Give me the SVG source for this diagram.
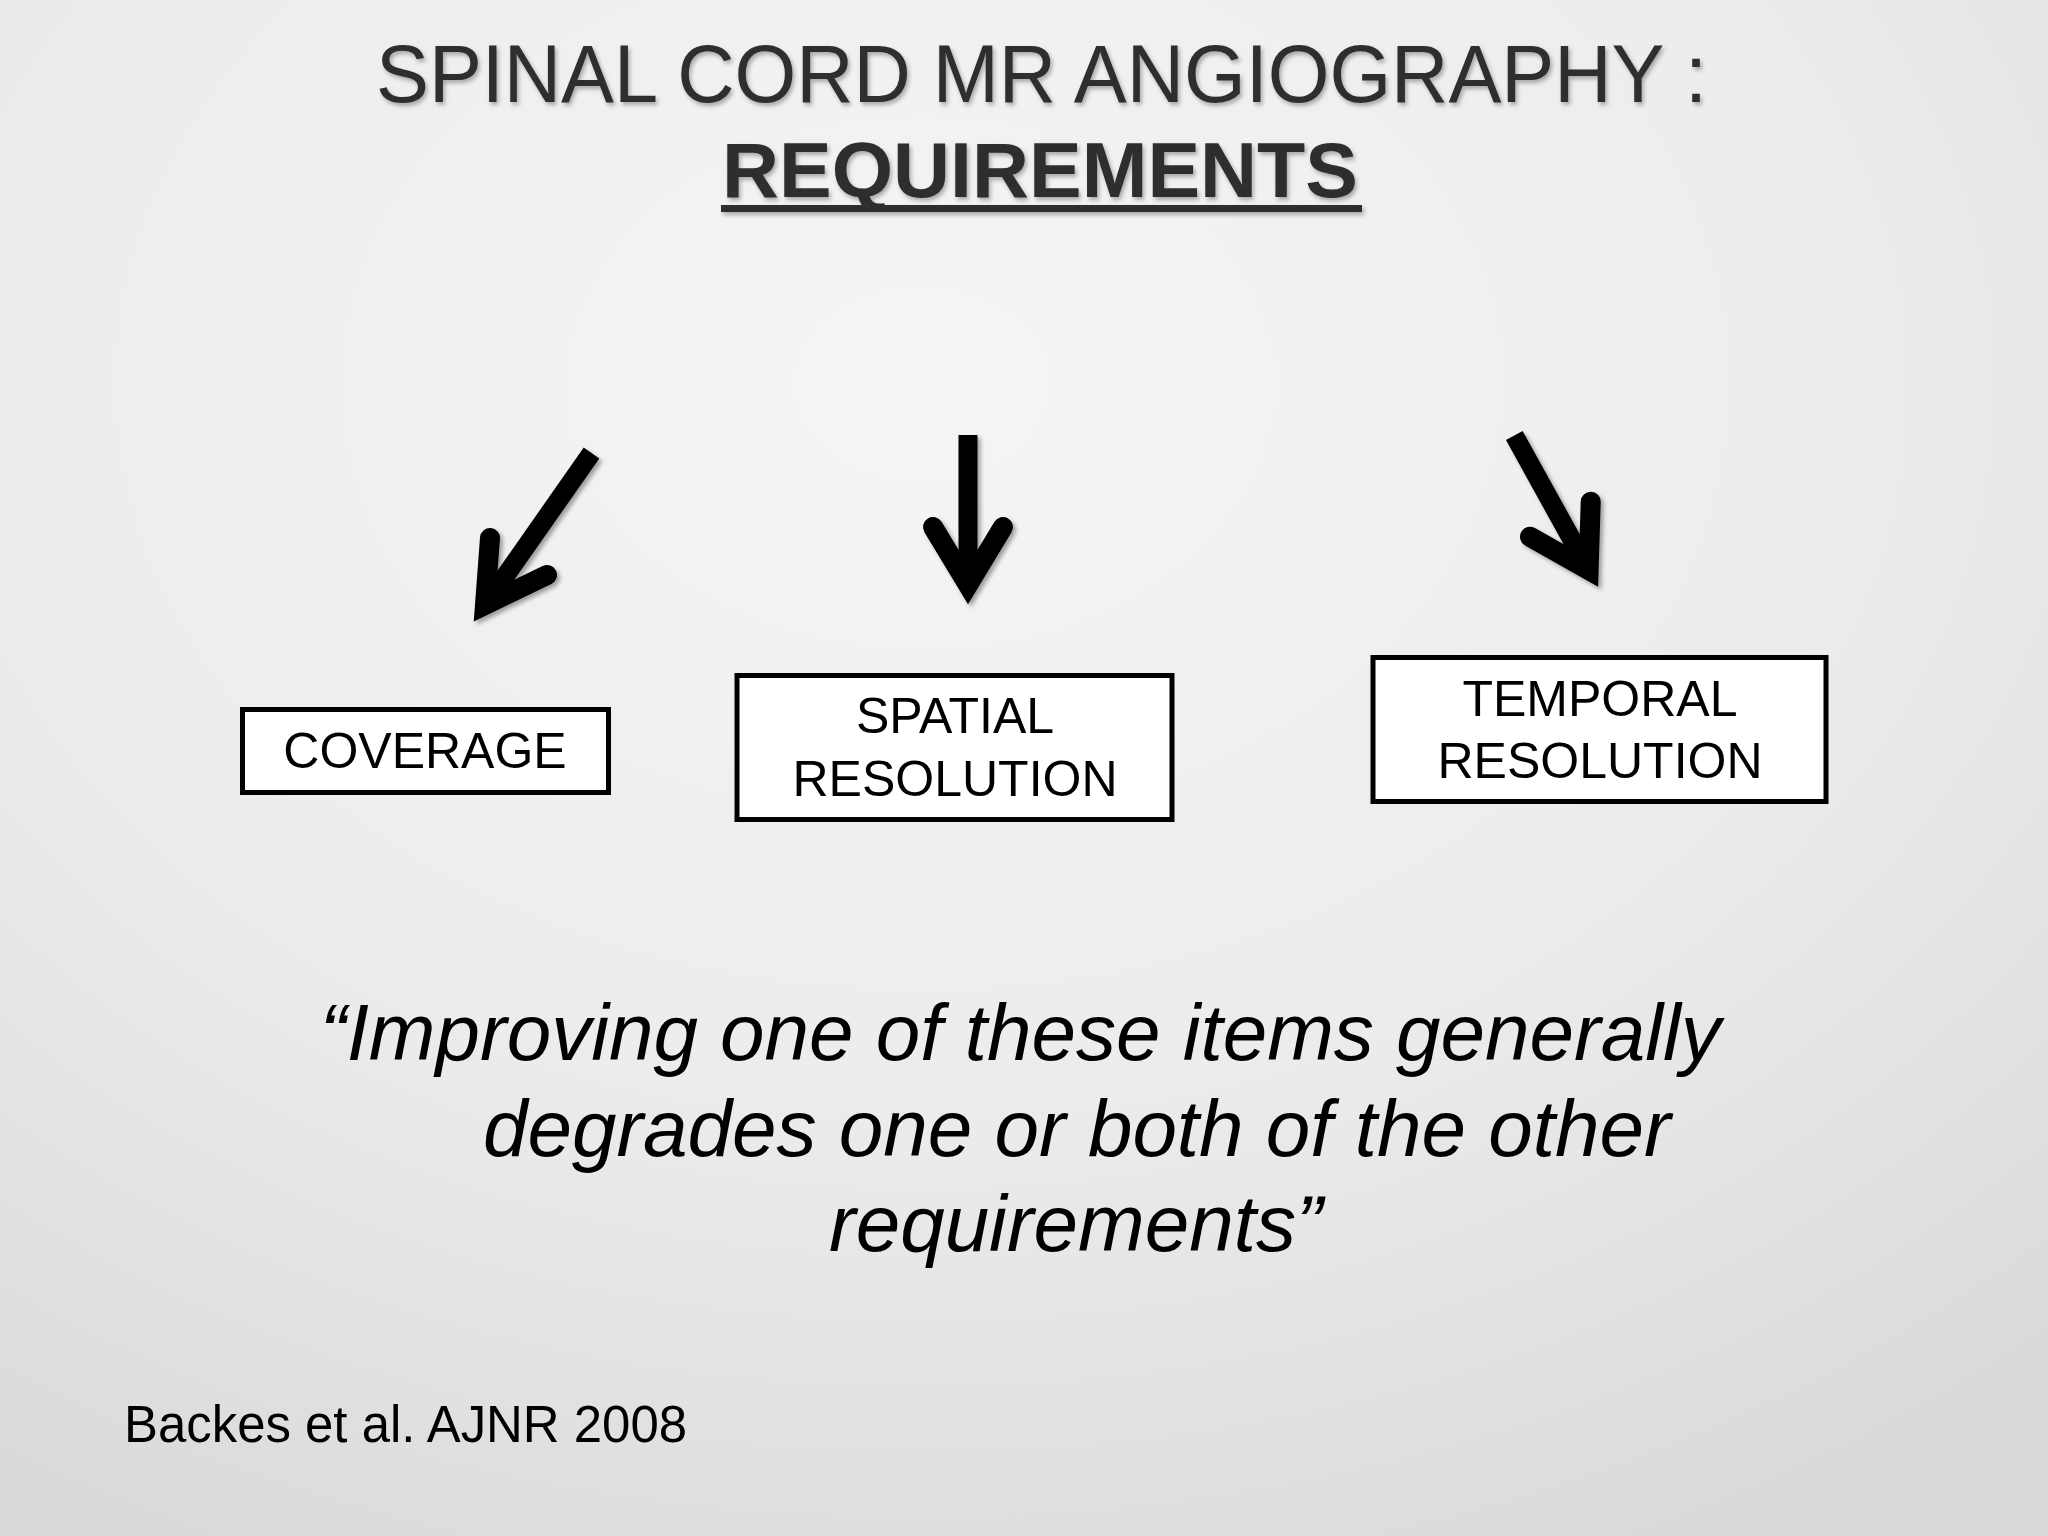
<svg xmlns="http://www.w3.org/2000/svg" width="2048" height="1536" viewBox="0 0 2048 1536">
  <defs>
    <radialGradient id="bg" cx="45%" cy="25%" r="85%">
      <stop offset="0" stop-color="#f5f5f5"/>
      <stop offset="0.55" stop-color="#ececec"/>
      <stop offset="1" stop-color="#d9d9d9"/>
    </radialGradient>
    <filter id="shadow" x="-20%" y="-20%" width="140%" height="140%">
      <feDropShadow dx="3" dy="3" stdDeviation="2" flood-color="#000" flood-opacity="0.35"/>
    </filter>
    <filter id="tshadow" x="-5%" y="-20%" width="110%" height="140%">
      <feDropShadow dx="2" dy="3" stdDeviation="2" flood-color="#000" flood-opacity="0.3"/>
    </filter>
  </defs>
  <style>
    .title { font-family: "Liberation Sans", Arial, sans-serif; fill: #2f2f2f; }
    .box { fill: #ffffff; stroke: #000000; stroke-width: 5; }
    .lbl { font-family: "Liberation Sans", Arial, sans-serif; font-size: 50px; fill: #000; text-anchor: middle; }
    .quote { font-family: "Liberation Sans", Arial, sans-serif; font-size: 80px; font-style: italic; fill: #000; }
    .cite { font-family: "Liberation Sans", Arial, sans-serif; font-size: 51px; fill: #000; }
    .shaft { fill: none; stroke: #000; stroke-width: 19; stroke-linecap: butt; }
    .head { fill: none; stroke: #000; stroke-width: 20; stroke-linecap: round; stroke-linejoin: miter; stroke-miterlimit: 10; }
  </style>

  <rect x="0" y="0" width="2048" height="1536" fill="url(#bg)"/>

  <g id="title" filter="url(#tshadow)">
    <text class="title" x="376" y="102" font-size="81" textLength="1331" lengthAdjust="spacingAndGlyphs">SPINAL CORD MR ANGIOGRAPHY :</text>
    <text class="title" x="722" y="197" font-size="78" font-weight="bold" textLength="636" lengthAdjust="spacingAndGlyphs">REQUIREMENTS</text>
    <rect x="721" y="205" width="641" height="7" fill="#2f2f2f"/>
  </g>

  <g id="connectors" filter="url(#shadow)">
    <g id="arrow-coverage">
      <line class="shaft" x1="591.5" y1="453" x2="485" y2="605"/>
      <polyline class="head" points="490,538 485,605 547,575"/>
    </g>
    <g id="arrow-spatial">
      <line class="shaft" x1="968" y1="435" x2="968" y2="585"/>
      <polyline class="head" points="933,527 968,585 1003,527"/>
    </g>
    <g id="arrow-temporal">
      <line class="shaft" x1="1514.3" y1="435.5" x2="1588.6" y2="569.8"/>
      <polyline class="head" points="1590.7,501.7 1588.6,569.8 1530,536.7"/>
    </g>
  </g>

  <g id="coverage">
    <rect class="box" x="242.5" y="709.5" width="366" height="83"/>
    <text class="lbl" x="425" y="768">COVERAGE</text>
  </g>

  <g id="spatial">
    <rect class="box" x="737" y="675.5" width="435" height="144"/>
    <text class="lbl" x="955" y="733">SPATIAL</text>
    <text class="lbl" x="955" y="796">RESOLUTION</text>
  </g>

  <g id="temporal">
    <rect class="box" x="1373" y="657.5" width="453" height="144"/>
    <text class="lbl" x="1600" y="716">TEMPORAL</text>
    <text class="lbl" x="1600" y="778">RESOLUTION</text>
  </g>

  <g id="quote">
    <text class="quote" x="320" y="1060">“Improving one of these items generally</text>
    <text class="quote" x="483" y="1156">degrades one or both of the other</text>
    <text class="quote" x="829" y="1251">requirements”</text>
  </g>

  <text class="cite" x="124" y="1442" textLength="563" lengthAdjust="spacingAndGlyphs">Backes et al. AJNR 2008</text>
</svg>
